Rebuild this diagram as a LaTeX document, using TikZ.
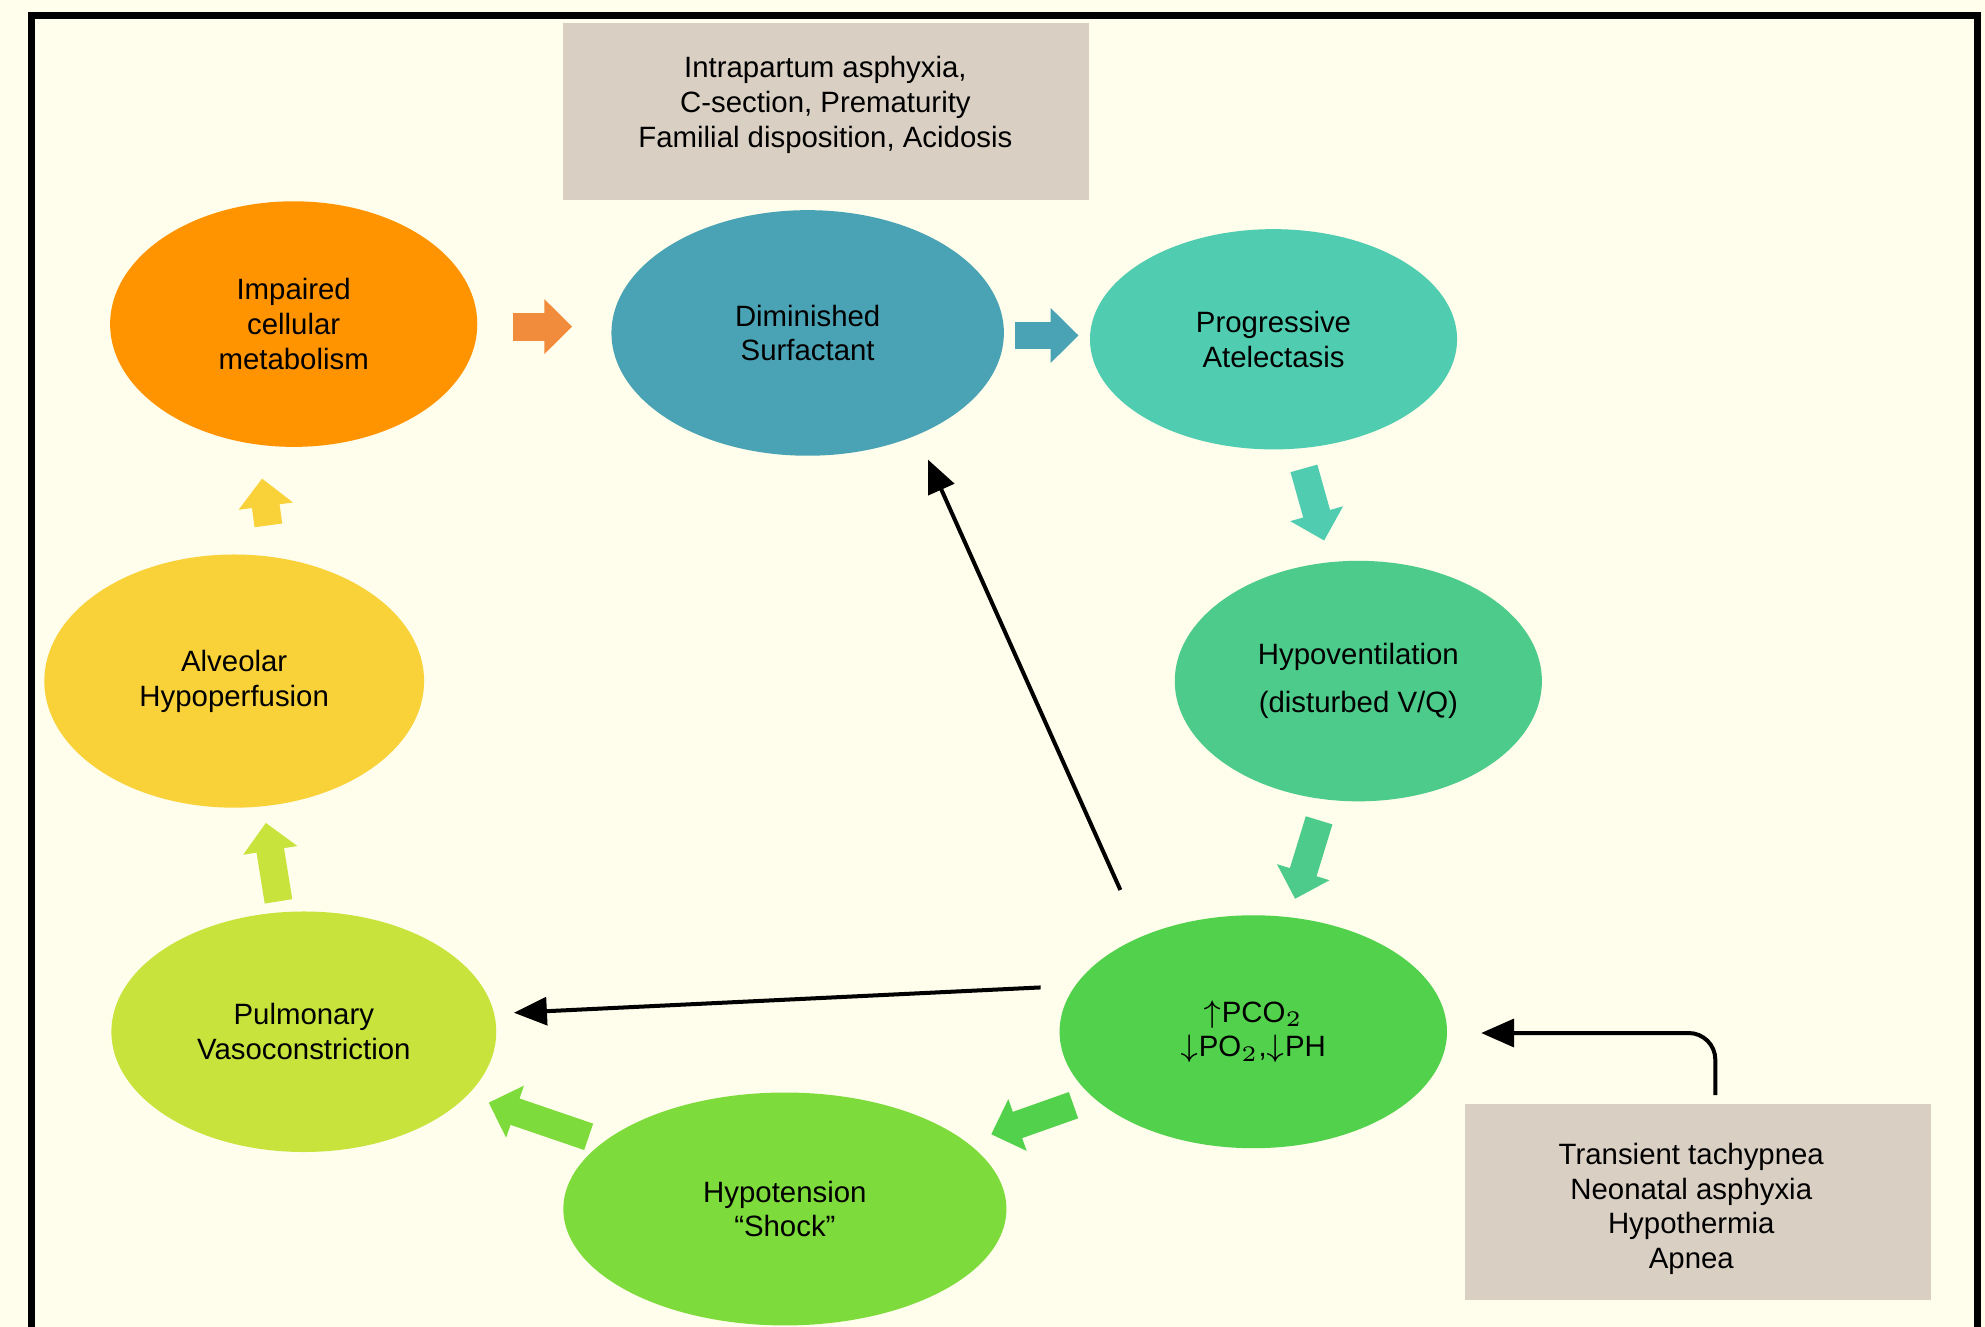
\documentclass[tikz,border=0pt]{standalone}
\usepackage{fontspec}
\setmainfont{Liberation Sans}
\usetikzlibrary{shapes.geometric,arrows.meta}
\definecolor{bg}{HTML}{FFFDEB}
\definecolor{tan}{HTML}{D9CFC3}
\begin{document}
\begin{tikzpicture}[x=0.01cm,y=-0.01cm,
  ell/.style={ellipse,draw=none,align=center,font=\fontsize{6.6}{7.8}\selectfont,inner sep=0pt},
  box/.style={fill=tan,align=center,font=\fontsize{6.6}{7.8}\selectfont},
  fat/.style={line width=2.2mm,-{Triangle[length=2.2mm,width=4.2mm]}},
  blk/.style={line width=0.9pt,-{Triangle[length=2.6mm,width=2.2mm]}}]
\useasboundingbox (0,0) rectangle (1568,1048);
\fill[bg] (0,0) rectangle (1568,1048);
\draw[line width=1.6pt] (25,1048) -- (25,12) -- (1562,12) -- (1562,1048);
\fill[tan] (445,18) rectangle (860,158);
\node[align=center,font=\fontsize{6.6}{7.8}\selectfont] (top) at (652,83) {Intrapartum asphyxia,\\C-section, Prematurity\\Familial disposition, Acidosis};
\fill[tan] (1157,872) rectangle (1525,1027);
\node[align=center,font=\fontsize{6.6}{7.8}\selectfont] (bot) at (1336,955) {Transient tachypnea\\Neonatal asphyxia\\Hypothermia\\Apnea};
\fill[orange!80!red!70!yellow] (232,256) ellipse (145 and 97);
\node[ell] (imp) at (232,256) {Impaired\\cellular\\metabolism};
\fill[fill={rgb,255:red,74;green,163;blue,181}] (638,263) ellipse (155 and 97);
\node[ell] (dim) at (638,263) {Diminished\\Surfactant};
\fill[fill={rgb,255:red,80;green,205;blue,176}] (1006,268) ellipse (145 and 87);
\node[ell] (pro) at (1006,268) {Progressive\\Atelectasis};
\fill[fill={rgb,255:red,76;green,203;blue,138}] (1073,538) ellipse (145 and 95);
\node[ell] (hyv) at (1073,538) {Hypoventilation\\[3pt](disturbed V/Q)};
\fill[fill={rgb,255:red,82;green,210;blue,76}] (990,815) ellipse (153 and 92);
\node[ell] (pco) at (990,815) {$\uparrow$PCO$_2$\\$\downarrow$PO$_2$,$\downarrow$PH};
\fill[fill={rgb,255:red,126;green,219;blue,60}] (620,955) ellipse (175 and 92);
\node[ell] (hyt) at (620,955) {Hypotension\\``Shock''};
\fill[fill={rgb,255:red,200;green,227;blue,60}] (240,815) ellipse (152 and 95);
\node[ell] (pul) at (240,815) {Pulmonary\\Vasoconstriction};
\fill[fill={rgb,255:red,249;green,210;blue,58}] (185,538) ellipse (150 and 100);
\node[ell] (alv) at (185,538) {Alveolar\\Hypoperfusion};
\coordinate (a1) at (405,258); \coordinate (a2) at (452,258);
\coordinate (b1) at (802,265); \coordinate (b2) at (852,265);
\coordinate (c1) at (1030,370); \coordinate (c2) at (1046,427);
\coordinate (d1) at (1042,648); \coordinate (d2) at (1023,710);
\coordinate (e1) at (848,873); \coordinate (e2) at (783,896);
\coordinate (f1) at (465,898); \coordinate (f2) at (386,871);
\coordinate (g1) at (220,712); \coordinate (g2) at (210,650);
\coordinate (h1) at (212,415); \coordinate (h2) at (207,378);
\draw[fat,color={rgb,255:red,240;green,140;blue,60}] (a1) -- (a2);
\draw[fat,color={rgb,255:red,74;green,163;blue,181}] (b1) -- (b2);
\draw[fat,color={rgb,255:red,80;green,205;blue,176}] (c1) -- (c2);
\draw[fat,color={rgb,255:red,76;green,203;blue,138}] (d1) -- (d2);
\draw[fat,color={rgb,255:red,82;green,210;blue,76}] (e1) -- (e2);
\draw[fat,color={rgb,255:red,126;green,219;blue,60}] (f1) -- (f2);
\draw[fat,color={rgb,255:red,200;green,227;blue,60}] (g1) -- (g2);
\draw[fat,color={rgb,255:red,249;green,210;blue,58}] (h1) -- (h2);
\coordinate (k1) at (885,703); \coordinate (k2) at (733,363);
\coordinate (m1) at (822,780); \coordinate (m2) at (406,800);
\coordinate (n1) at (1355,865); \coordinate (n2) at (1170,816);
\draw[blk] (k1) -- (k2);
\draw[blk] (m1) -- (m2);
\draw[blk,rounded corners=6] (n1) -- (1355,816) -- (n2);
\end{tikzpicture}
\end{document}
